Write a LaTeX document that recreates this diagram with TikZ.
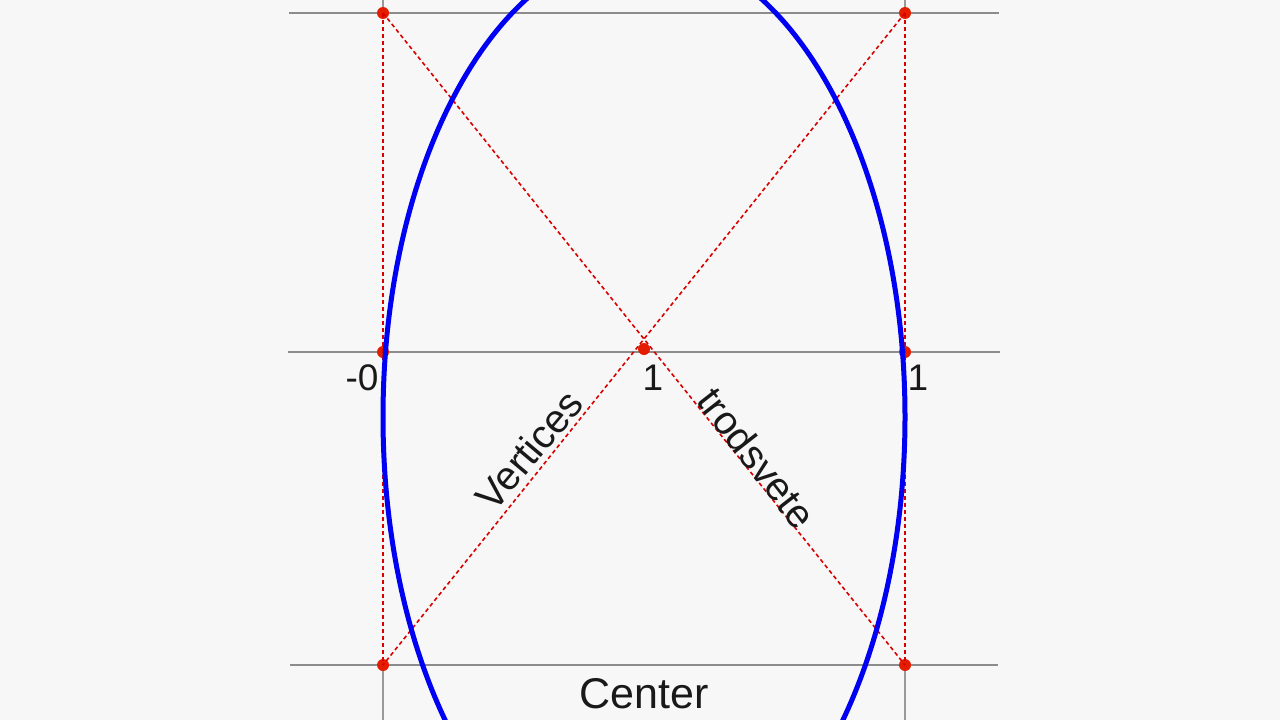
\documentclass[tikz,border=0pt]{standalone}
\usepackage{fontspec}
\setmainfont{Liberation Sans}
\begin{document}
\begin{tikzpicture}[x=1pt,y=-1pt,
  grayline/.style={draw=black!45,line width=1.8pt},
  reddash/.style={draw=red!85!black,line width=1.6pt,dash pattern=on 4pt off 3pt},
  dot/.style={circle,fill=red!75!orange!90!black,inner sep=0pt,minimum size=12pt},
  lbl/.style={font=\fontsize{37}{44}\selectfont,text=black!90},
  curve/.style={draw=blue!95!black,line width=5pt}]
\useasboundingbox (0,0) rectangle (1280,720);
\fill[black!3] (0,0) rectangle (1280,720);
\begin{scope}
\clip (0,0) rectangle (1280,720);
% coordinates
\coordinate (hl1) at (289,13); \coordinate (hr1) at (999,13);
\coordinate (hl2) at (288,352); \coordinate (hr2) at (1000,352);
\coordinate (hl3) at (290,665); \coordinate (hr3) at (998,665);
\coordinate (vt1) at (383,-5); \coordinate (vt2) at (905,-5);
\coordinate (vb1) at (383,725); \coordinate (vb2) at (905,725);
% gray lines
\draw[grayline] (hl1) -- (hr1);
\draw[grayline] (hl2) -- (hr2);
\draw[grayline] (hl3) -- (hr3);
% dots
\node[dot] (tl) at (383,13) {};
\node[dot] (tr) at (905,13) {};
\node[dot] (ml) at (383,352) {};
\node[dot] (mc) at (644,349) {};
\node[dot] (mr) at (905,352) {};
\node[dot] (bl) at (383,665) {};
\node[dot] (br) at (905,665) {};
\draw[line width=1.5pt,draw=black!40] (vt1) -- (tl);
\draw[line width=1.5pt,draw=black!40] (vt2) -- (tr);
\draw[line width=1.5pt,draw=black!40] (bl) -- (vb1);
\draw[line width=1.5pt,draw=black!40] (br) -- (vb2);
% red dashed
\draw[reddash] (tl.center) -- (bl.center);
\draw[reddash] (tr.center) -- (br.center);
\draw[reddash] (tl.center) -- (br.center);
\draw[reddash] (tr.center) -- (bl.center);
% ellipse
\draw[curve] (644,417) ellipse [x radius=261, y radius=468];
% labels
\node[lbl] (top) at (656,-15) {p\hspace{14pt}y};
\node[lbl] (lm) at (362,378) {-0};
\node[lbl] (lc) at (653,378) {1};
\node[lbl] (lr) at (918,378) {1};
\node[lbl,font=\fontsize{43}{50}\selectfont] (lcen) at (644,694) {Center};
\node[lbl,font=\fontsize{40}{48}\selectfont,rotate=50] (lv) at (529,450) {Vertices};
\node[lbl,font=\fontsize{40}{48}\selectfont,rotate=-52] (lt) at (757,458) {trodsvete};
\end{scope}
\end{tikzpicture}
\end{document}
